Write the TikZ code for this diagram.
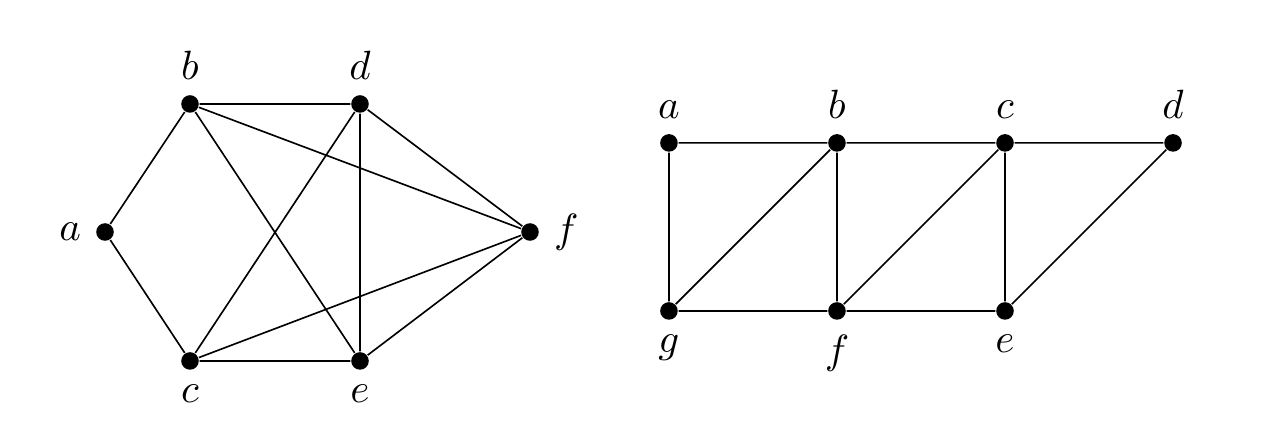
\documentclass[tikz,border=0pt]{standalone}
\usetikzlibrary{positioning}
\tikzset{vtx/.style={circle,fill,inner sep=0pt,minimum size=4.3pt}}
\begin{document}
\begin{tikzpicture}[on grid]
\useasboundingbox (0,0) rectangle (11.077,3.818);
%left graph
\node[vtx,label=left:$a$](la) at (0.903,1.823){};
\node[vtx,above right=1.101cm and 0.731cm of la,label=above:$b$](lb){};
\node[vtx,right=1.462cm of lb,label=above:$d$](ld){};
\node[vtx,below right=1.101cm and 1.462cm of ld,label=right:$f$](lf){};
\node[vtx,below=2.21cm of lb,label=below:$c$](lc){};
\node[vtx,below=2.21cm of ld,label=below:$e$](le){};
\draw (la)--(lb)--(ld)--(lf)--(le)--(lc)--(la);
\draw (lb)--(le) (lb)--(lf) (ld)--(lc) (ld)--(le) (lc)--(lf);
%right graph
\node[vtx,label=above:$a$](ra) at (5.753,2.589){};
\node[vtx,right=1.445cm of ra,label=above:$b$](rb){};
\node[vtx,right=1.445cm of rb,label=above:$c$](rc){};
\node[vtx,right=1.445cm of rc,label=above:$d$](rd){};
\node[vtx,below=1.445cm of ra,label=below:$g$](rg){};
\node[vtx,below=1.445cm of rb,label=below:$f$](rf){};
\node[vtx,below=1.445cm of rc,label=below:$e$](re){};
\draw (ra)--(rb)--(rc)--(rd)--(re)--(rf)--(rg)--(ra);
\draw (rg)--(rb)--(rf)--(rc)--(re);
\end{tikzpicture}
\end{document}
